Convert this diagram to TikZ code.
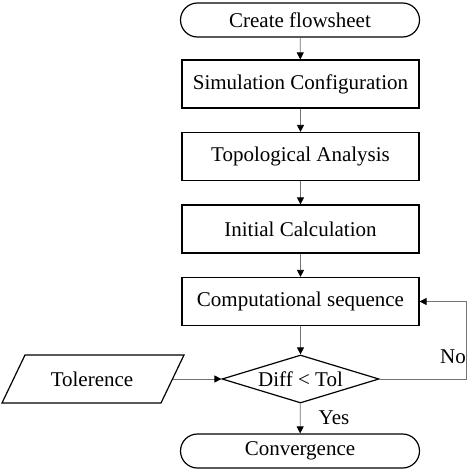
\documentclass[tikz,border=0pt]{standalone}
\usepackage{fontspec}
\setmainfont{Liberation Serif}
\usetikzlibrary{shapes.geometric,shapes.misc,arrows.meta}
\begin{document}
\begin{tikzpicture}[x=1pt,y=-1pt,
  txt/.style={font=\fontsize{21}{24}\selectfont},
  box/.style={txt,draw=black,line width=1.2pt,minimum width=237pt,minimum height=48pt,inner sep=0pt},
  term/.style={txt,draw=black,line width=1.2pt,rounded rectangle,minimum width=239pt,minimum height=34pt,inner sep=0pt},
  dec/.style={txt,draw=black,line width=1.2pt,diamond,aspect=3.27,minimum width=157pt,minimum height=48pt,inner sep=0pt},
  iotext/.style={txt,inner sep=0pt},
  ioframe/.style={draw=black,line width=1.2pt},
  lbl/.style={txt,inner sep=0pt},
  conn/.style={draw=black!55,line width=0.8pt,-{Triangle[length=7pt,width=7pt,fill=black,color=black]}}]
\useasboundingbox (0,0) rectangle (474,474);
\node[term] (cf) at (300,20) {Create flowsheet};
\node[box] (sc) at (300.5,84) {Simulation Configuration};
\node[box] (ta) at (300.5,156.5) {Topological Analysis};
\node[box] (ic) at (300.5,229) {Initial Calculation};
\node[box] (cs) at (300.5,301.5) {Computational sequence};
\node[dec] (dt) at (300.5,379) {Diff < Tol};
\node[iotext] (tl) at (92,379) {Tolerence};
\draw[ioframe] (25,355) -- (184,355) -- (161,403) -- (2,403) -- cycle;
\coordinate (tlr) at (172.5,379);
\node[term] (cv) at (300,451) {Convergence};
\coordinate (c1) at (466,379);
\coordinate (c2) at (466,301.5);
\draw[conn] (cf) -- (sc);
\draw[conn] (sc) -- (ta);
\draw[conn] (ta) -- (ic);
\draw[conn] (ic) -- (cs);
\draw[conn] (cs) -- (dt);
\draw[conn] (tlr) -- (dt);
\draw[conn] (dt) -- (cv);
\draw[conn] (dt.east) -- (c1) -- (c2) -- (cs.east);
\node[lbl] (no) at (453,357) {No};
\node[lbl] (yes) at (334,418) {Yes};
\end{tikzpicture}
\end{document}
